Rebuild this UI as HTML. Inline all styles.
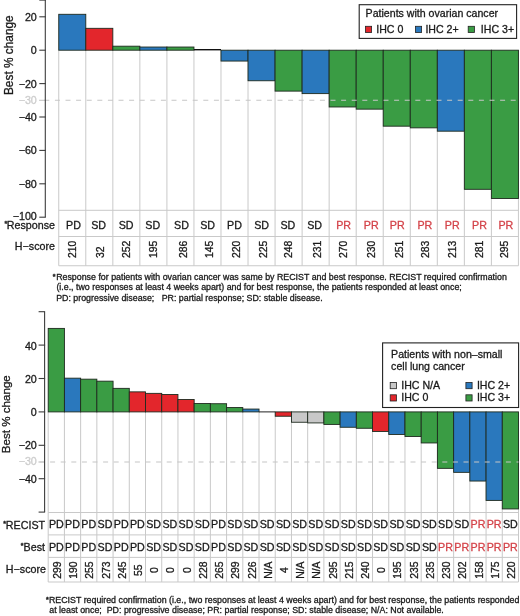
<!DOCTYPE html><html><head><meta charset="utf-8"><style>html,body{margin:0;padding:0;background:#fff;}svg{display:block;}text{font-family:"Liberation Sans", Arial, sans-serif;stroke-width:0.3px;}</style></head><body>
<svg width="520" height="616" viewBox="0 0 520 616">
<rect width="520" height="616" fill="#fff"/>
<line x1="58.75" y1="50.2" x2="58.75" y2="265.75" stroke="#c9c9c9" stroke-width="1"/>
<line x1="85.79" y1="50.2" x2="85.79" y2="265.75" stroke="#c9c9c9" stroke-width="1"/>
<line x1="112.83" y1="50.2" x2="112.83" y2="265.75" stroke="#c9c9c9" stroke-width="1"/>
<line x1="139.87" y1="50.2" x2="139.87" y2="265.75" stroke="#c9c9c9" stroke-width="1"/>
<line x1="166.91" y1="50.2" x2="166.91" y2="265.75" stroke="#c9c9c9" stroke-width="1"/>
<line x1="193.95" y1="50.2" x2="193.95" y2="265.75" stroke="#c9c9c9" stroke-width="1"/>
<line x1="220.99" y1="50.2" x2="220.99" y2="265.75" stroke="#c9c9c9" stroke-width="1"/>
<line x1="248.03" y1="50.2" x2="248.03" y2="265.75" stroke="#c9c9c9" stroke-width="1"/>
<line x1="275.07" y1="50.2" x2="275.07" y2="265.75" stroke="#c9c9c9" stroke-width="1"/>
<line x1="302.11" y1="50.2" x2="302.11" y2="265.75" stroke="#c9c9c9" stroke-width="1"/>
<line x1="329.15" y1="50.2" x2="329.15" y2="265.75" stroke="#c9c9c9" stroke-width="1"/>
<line x1="356.19" y1="50.2" x2="356.19" y2="265.75" stroke="#c9c9c9" stroke-width="1"/>
<line x1="383.23" y1="50.2" x2="383.23" y2="265.75" stroke="#c9c9c9" stroke-width="1"/>
<line x1="410.27" y1="50.2" x2="410.27" y2="265.75" stroke="#c9c9c9" stroke-width="1"/>
<line x1="437.31" y1="50.2" x2="437.31" y2="265.75" stroke="#c9c9c9" stroke-width="1"/>
<line x1="464.35" y1="50.2" x2="464.35" y2="265.75" stroke="#c9c9c9" stroke-width="1"/>
<line x1="491.39" y1="50.2" x2="491.39" y2="265.75" stroke="#c9c9c9" stroke-width="1"/>
<line x1="518.43" y1="50.2" x2="518.43" y2="265.75" stroke="#c9c9c9" stroke-width="1"/>
<rect x="58.75" y="14.3" width="27.04" height="35.91" fill="#2a78bd" stroke="#1e2a1e" stroke-width="0.9"/>
<rect x="85.79" y="28.32" width="27.04" height="21.88" fill="#e3262c" stroke="#1e2a1e" stroke-width="0.9"/>
<rect x="112.83" y="46.19" width="27.04" height="4.01" fill="#3a9c44" stroke="#1e2a1e" stroke-width="0.9"/>
<rect x="139.87" y="47.03" width="27.04" height="3.17" fill="#2a78bd" stroke="#1e2a1e" stroke-width="0.9"/>
<rect x="166.91" y="47.03" width="27.04" height="3.17" fill="#3a9c44" stroke="#1e2a1e" stroke-width="0.9"/>
<line x1="193.95" y1="49.7" x2="220.99" y2="49.7" stroke="#111" stroke-width="1.4"/>
<rect x="220.99" y="50.2" width="27.04" height="10.86" fill="#2a78bd" stroke="#1e2a1e" stroke-width="0.9"/>
<rect x="248.03" y="50.2" width="27.04" height="30.56" fill="#2a78bd" stroke="#1e2a1e" stroke-width="0.9"/>
<rect x="275.07" y="50.2" width="27.04" height="40.92" fill="#3a9c44" stroke="#1e2a1e" stroke-width="0.9"/>
<rect x="302.11" y="50.2" width="27.04" height="43.42" fill="#2a78bd" stroke="#1e2a1e" stroke-width="0.9"/>
<rect x="329.15" y="50.2" width="27.04" height="56.78" fill="#3a9c44" stroke="#1e2a1e" stroke-width="0.9"/>
<rect x="356.19" y="50.2" width="27.04" height="58.95" fill="#3a9c44" stroke="#1e2a1e" stroke-width="0.9"/>
<rect x="383.23" y="50.2" width="27.04" height="75.98" fill="#3a9c44" stroke="#1e2a1e" stroke-width="0.9"/>
<rect x="410.27" y="50.2" width="27.04" height="77.66" fill="#3a9c44" stroke="#1e2a1e" stroke-width="0.9"/>
<rect x="437.31" y="50.2" width="27.04" height="80.99" fill="#2a78bd" stroke="#1e2a1e" stroke-width="0.9"/>
<rect x="464.35" y="50.2" width="27.04" height="139.11" fill="#3a9c44" stroke="#1e2a1e" stroke-width="0.9"/>
<rect x="491.39" y="50.2" width="27.04" height="148.3" fill="#3a9c44" stroke="#1e2a1e" stroke-width="0.9"/>
<line x1="39.1" y1="100.3" x2="45.3" y2="100.3" stroke="#c6c6c6" stroke-width="1.1"/>
<line x1="44.3" y1="100.3" x2="518.43" y2="100.3" stroke="#c6c6c6" stroke-width="1.1" stroke-dasharray="5 5.6"/>
<line x1="45.3" y1="0.1" x2="45.3" y2="217.2" stroke="#3c3c3c" stroke-width="1.1"/>
<line x1="39.3" y1="0.1" x2="45.8" y2="0.1" stroke="#3c3c3c" stroke-width="1.1"/>
<line x1="39.3" y1="16.8" x2="45.8" y2="16.8" stroke="#3c3c3c" stroke-width="1.1"/>
<line x1="39.3" y1="50.2" x2="45.8" y2="50.2" stroke="#3c3c3c" stroke-width="1.1"/>
<line x1="39.3" y1="83.6" x2="45.8" y2="83.6" stroke="#3c3c3c" stroke-width="1.1"/>
<line x1="39.3" y1="117" x2="45.8" y2="117" stroke="#3c3c3c" stroke-width="1.1"/>
<line x1="39.3" y1="150.4" x2="45.8" y2="150.4" stroke="#3c3c3c" stroke-width="1.1"/>
<line x1="39.3" y1="183.8" x2="45.8" y2="183.8" stroke="#3c3c3c" stroke-width="1.1"/>
<line x1="39.3" y1="217.2" x2="45.8" y2="217.2" stroke="#3c3c3c" stroke-width="1.1"/>
<text x="36.8" y="21" font-size="10.7" text-anchor="end" fill="#1a1a1a" stroke="#1a1a1a">20</text>
<text x="36.8" y="54" font-size="10.7" text-anchor="end" fill="#1a1a1a" stroke="#1a1a1a">0</text>
<text x="36.8" y="88" font-size="10.7" text-anchor="end" fill="#1a1a1a" stroke="#1a1a1a">−20</text>
<text x="36.8" y="121" font-size="10.7" text-anchor="end" fill="#1a1a1a" stroke="#1a1a1a">−40</text>
<text x="36.8" y="154" font-size="10.7" text-anchor="end" fill="#1a1a1a" stroke="#1a1a1a">−60</text>
<text x="36.8" y="188" font-size="10.7" text-anchor="end" fill="#1a1a1a" stroke="#1a1a1a">−80</text>
<text x="36.8" y="220" font-size="10.7" text-anchor="end" fill="#1a1a1a" stroke="#1a1a1a">−100</text>
<text x="36.8" y="104" font-size="10.7" text-anchor="end" fill="#cdcdcd" stroke="#cdcdcd">−30</text>
<line x1="58.75" y1="210.3" x2="518.43" y2="210.3" stroke="#c9c9c9" stroke-width="1"/>
<line x1="58.75" y1="236.5" x2="518.43" y2="236.5" stroke="#c9c9c9" stroke-width="1"/>
<line x1="58.75" y1="265.75" x2="518.43" y2="265.75" stroke="#c9c9c9" stroke-width="1"/>
<text x="4.38" y="226.12" font-size="7" fill="#1a1a1a" font-weight="bold" stroke="#1a1a1a">*</text>
<text x="54.98" y="228.6" font-size="10.7" text-anchor="end" fill="#1a1a1a" stroke="#1a1a1a">Response</text>
<text x="54.98" y="249.6" font-size="10.7" text-anchor="end" fill="#1a1a1a" stroke="#1a1a1a">H−score</text>
<text x="73.47" y="228.6" font-size="10.7" text-anchor="middle" fill="#1a1a1a" stroke="#1a1a1a">PD</text>
<text transform="translate(75.82,258.1) rotate(-90)" font-size="10.4" fill="#1a1a1a" stroke="#1a1a1a">210</text>
<text x="98.61" y="228.6" font-size="10.7" text-anchor="middle" fill="#1a1a1a" stroke="#1a1a1a">SD</text>
<text transform="translate(104.41,258.1) rotate(-90)" font-size="10.4" fill="#1a1a1a" stroke="#1a1a1a">32</text>
<text x="126.1" y="228.6" font-size="10.7" text-anchor="middle" fill="#1a1a1a" stroke="#1a1a1a">SD</text>
<text transform="translate(130.1,258.1) rotate(-90)" font-size="10.4" fill="#1a1a1a" stroke="#1a1a1a">252</text>
<text x="152.79" y="228.6" font-size="10.7" text-anchor="middle" fill="#1a1a1a" stroke="#1a1a1a">SD</text>
<text transform="translate(157.39,258.1) rotate(-90)" font-size="10.4" fill="#1a1a1a" stroke="#1a1a1a">195</text>
<text x="181.43" y="228.6" font-size="10.7" text-anchor="middle" fill="#1a1a1a" stroke="#1a1a1a">SD</text>
<text transform="translate(186.53,258.1) rotate(-90)" font-size="10.4" fill="#1a1a1a" stroke="#1a1a1a">286</text>
<text x="207.67" y="228.6" font-size="10.7" text-anchor="middle" fill="#1a1a1a" stroke="#1a1a1a">SD</text>
<text transform="translate(213.47,258.1) rotate(-90)" font-size="10.4" fill="#1a1a1a" stroke="#1a1a1a">145</text>
<text x="234.51" y="228.6" font-size="10.7" text-anchor="middle" fill="#1a1a1a" stroke="#1a1a1a">PD</text>
<text transform="translate(240.21,258.1) rotate(-90)" font-size="10.4" fill="#1a1a1a" stroke="#1a1a1a">220</text>
<text x="261.65" y="228.6" font-size="10.7" text-anchor="middle" fill="#1a1a1a" stroke="#1a1a1a">SD</text>
<text transform="translate(266.75,258.1) rotate(-90)" font-size="10.4" fill="#1a1a1a" stroke="#1a1a1a">225</text>
<text x="287.89" y="228.6" font-size="10.7" text-anchor="middle" fill="#1a1a1a" stroke="#1a1a1a">SD</text>
<text transform="translate(292.19,258.1) rotate(-90)" font-size="10.4" fill="#1a1a1a" stroke="#1a1a1a">248</text>
<text x="314.63" y="228.6" font-size="10.7" text-anchor="middle" fill="#1a1a1a" stroke="#1a1a1a">SD</text>
<text transform="translate(320.53,258.1) rotate(-90)" font-size="10.4" fill="#1a1a1a" stroke="#1a1a1a">231</text>
<text x="343.67" y="228.6" font-size="10.7" text-anchor="middle" fill="#d4444a" stroke="#d4444a">PR</text>
<text transform="translate(347.17,258.1) rotate(-90)" font-size="10.4" fill="#1a1a1a" stroke="#1a1a1a">270</text>
<text x="371.21" y="228.6" font-size="10.7" text-anchor="middle" fill="#d4444a" stroke="#d4444a">PR</text>
<text transform="translate(374.71,258.1) rotate(-90)" font-size="10.4" fill="#1a1a1a" stroke="#1a1a1a">230</text>
<text x="397.25" y="228.6" font-size="10.7" text-anchor="middle" fill="#d4444a" stroke="#d4444a">PR</text>
<text transform="translate(402.5,258.1) rotate(-90)" font-size="10.4" fill="#1a1a1a" stroke="#1a1a1a">251</text>
<text x="424.89" y="228.6" font-size="10.7" text-anchor="middle" fill="#d4444a" stroke="#d4444a">PR</text>
<text transform="translate(429.29,258.1) rotate(-90)" font-size="10.4" fill="#1a1a1a" stroke="#1a1a1a">283</text>
<text x="452.23" y="228.6" font-size="10.7" text-anchor="middle" fill="#d4444a" stroke="#d4444a">PR</text>
<text transform="translate(455.73,258.1) rotate(-90)" font-size="10.4" fill="#1a1a1a" stroke="#1a1a1a">213</text>
<text x="479.47" y="228.6" font-size="10.7" text-anchor="middle" fill="#d4444a" stroke="#d4444a">PR</text>
<text transform="translate(483.22,258.1) rotate(-90)" font-size="10.4" fill="#1a1a1a" stroke="#1a1a1a">281</text>
<text x="505.91" y="228.6" font-size="10.7" text-anchor="middle" fill="#d4444a" stroke="#d4444a">PR</text>
<text transform="translate(508.11,258.1) rotate(-90)" font-size="10.4" fill="#1a1a1a" stroke="#1a1a1a">295</text>
<rect x="359.2" y="4.7" width="157.4" height="33.7" fill="#fff" stroke="#222" stroke-width="1.1"/>
<text x="365.6" y="16.8" font-size="10.6" fill="#1a1a1a" stroke="#1a1a1a">Patients with ovarian cancer</text>
<rect x="365.4" y="26.3" width="6.2" height="6.2" fill="#e3262c" stroke="#222" stroke-width="0.8"/>
<text x="376.2" y="33" font-size="10.6" fill="#1a1a1a" stroke="#1a1a1a">IHC 0</text>
<rect x="415.4" y="26.3" width="6.2" height="6.2" fill="#2a78bd" stroke="#222" stroke-width="0.8"/>
<text x="425.4" y="33" font-size="10.6" fill="#1a1a1a" stroke="#1a1a1a">IHC 2+</text>
<rect x="468.2" y="26.3" width="6.2" height="6.2" fill="#3a9c44" stroke="#222" stroke-width="0.8"/>
<text x="480.8" y="33" font-size="10.6" fill="#1a1a1a" stroke="#1a1a1a">IHC 3+</text>
<text x="52.68" y="278.52" font-size="7" fill="#1a1a1a" font-weight="bold" stroke="#1a1a1a">*</text>
<text x="56.18" y="280" font-size="8.84" fill="#1a1a1a" stroke="#1a1a1a">Response for patients with ovarian cancer was same by RECIST and best response. RECIST required confirmation</text>
<text x="56.4" y="290.3" font-size="8.84" fill="#1a1a1a" stroke="#1a1a1a">(i.e., two responses at least 4 weeks apart) and for best response, the patients responded at least once;</text>
<text x="56.2" y="301" font-size="8.84" fill="#1a1a1a" xml:space="preserve" style="white-space:pre" stroke="#1a1a1a">PD: progressive disease;   PR: partial response; SD: stable disease.</text>
<text transform="translate(12.6,55.2) rotate(-90)" font-size="11.85" text-anchor="middle" fill="#1a1a1a" stroke="#1a1a1a">Best % change</text>
<line x1="48.2" y1="411.9" x2="48.2" y2="582" stroke="#c9c9c9" stroke-width="1"/>
<line x1="64.42" y1="411.9" x2="64.42" y2="582" stroke="#c9c9c9" stroke-width="1"/>
<line x1="80.63" y1="411.9" x2="80.63" y2="582" stroke="#c9c9c9" stroke-width="1"/>
<line x1="96.85" y1="411.9" x2="96.85" y2="582" stroke="#c9c9c9" stroke-width="1"/>
<line x1="113.07" y1="411.9" x2="113.07" y2="582" stroke="#c9c9c9" stroke-width="1"/>
<line x1="129.29" y1="411.9" x2="129.29" y2="582" stroke="#c9c9c9" stroke-width="1"/>
<line x1="145.5" y1="411.9" x2="145.5" y2="582" stroke="#c9c9c9" stroke-width="1"/>
<line x1="161.72" y1="411.9" x2="161.72" y2="582" stroke="#c9c9c9" stroke-width="1"/>
<line x1="177.94" y1="411.9" x2="177.94" y2="582" stroke="#c9c9c9" stroke-width="1"/>
<line x1="194.16" y1="411.9" x2="194.16" y2="582" stroke="#c9c9c9" stroke-width="1"/>
<line x1="210.37" y1="411.9" x2="210.37" y2="582" stroke="#c9c9c9" stroke-width="1"/>
<line x1="226.59" y1="411.9" x2="226.59" y2="582" stroke="#c9c9c9" stroke-width="1"/>
<line x1="242.81" y1="411.9" x2="242.81" y2="582" stroke="#c9c9c9" stroke-width="1"/>
<line x1="259.02" y1="411.9" x2="259.02" y2="582" stroke="#c9c9c9" stroke-width="1"/>
<line x1="275.24" y1="411.9" x2="275.24" y2="582" stroke="#c9c9c9" stroke-width="1"/>
<line x1="291.46" y1="411.9" x2="291.46" y2="582" stroke="#c9c9c9" stroke-width="1"/>
<line x1="307.68" y1="411.9" x2="307.68" y2="582" stroke="#c9c9c9" stroke-width="1"/>
<line x1="323.89" y1="411.9" x2="323.89" y2="582" stroke="#c9c9c9" stroke-width="1"/>
<line x1="340.11" y1="411.9" x2="340.11" y2="582" stroke="#c9c9c9" stroke-width="1"/>
<line x1="356.33" y1="411.9" x2="356.33" y2="582" stroke="#c9c9c9" stroke-width="1"/>
<line x1="372.54" y1="411.9" x2="372.54" y2="582" stroke="#c9c9c9" stroke-width="1"/>
<line x1="388.76" y1="411.9" x2="388.76" y2="582" stroke="#c9c9c9" stroke-width="1"/>
<line x1="404.98" y1="411.9" x2="404.98" y2="582" stroke="#c9c9c9" stroke-width="1"/>
<line x1="421.2" y1="411.9" x2="421.2" y2="582" stroke="#c9c9c9" stroke-width="1"/>
<line x1="437.41" y1="411.9" x2="437.41" y2="582" stroke="#c9c9c9" stroke-width="1"/>
<line x1="453.63" y1="411.9" x2="453.63" y2="582" stroke="#c9c9c9" stroke-width="1"/>
<line x1="469.85" y1="411.9" x2="469.85" y2="582" stroke="#c9c9c9" stroke-width="1"/>
<line x1="486.07" y1="411.9" x2="486.07" y2="582" stroke="#c9c9c9" stroke-width="1"/>
<line x1="502.28" y1="411.9" x2="502.28" y2="582" stroke="#c9c9c9" stroke-width="1"/>
<line x1="518.5" y1="411.9" x2="518.5" y2="582" stroke="#c9c9c9" stroke-width="1"/>
<rect x="48.2" y="328.4" width="16.22" height="83.5" fill="#3a9c44" stroke="#1e2a1e" stroke-width="0.9"/>
<rect x="64.42" y="378.17" width="16.22" height="33.73" fill="#2a78bd" stroke="#1e2a1e" stroke-width="0.9"/>
<rect x="80.63" y="379.17" width="16.22" height="32.73" fill="#3a9c44" stroke="#1e2a1e" stroke-width="0.9"/>
<rect x="96.85" y="381.17" width="16.22" height="30.73" fill="#3a9c44" stroke="#1e2a1e" stroke-width="0.9"/>
<rect x="113.07" y="388.35" width="16.22" height="23.55" fill="#3a9c44" stroke="#1e2a1e" stroke-width="0.9"/>
<rect x="129.29" y="391.86" width="16.22" height="20.04" fill="#e3262c" stroke="#1e2a1e" stroke-width="0.9"/>
<rect x="145.5" y="393.36" width="16.22" height="18.54" fill="#e3262c" stroke="#1e2a1e" stroke-width="0.9"/>
<rect x="161.72" y="394.53" width="16.22" height="17.37" fill="#e3262c" stroke="#1e2a1e" stroke-width="0.9"/>
<rect x="177.94" y="399.54" width="16.22" height="12.36" fill="#e3262c" stroke="#1e2a1e" stroke-width="0.9"/>
<rect x="194.16" y="403.55" width="16.22" height="8.35" fill="#3a9c44" stroke="#1e2a1e" stroke-width="0.9"/>
<rect x="210.37" y="403.72" width="16.22" height="8.18" fill="#3a9c44" stroke="#1e2a1e" stroke-width="0.9"/>
<rect x="226.59" y="407.56" width="16.22" height="4.34" fill="#3a9c44" stroke="#1e2a1e" stroke-width="0.9"/>
<rect x="242.81" y="409.06" width="16.22" height="2.84" fill="#2a78bd" stroke="#1e2a1e" stroke-width="0.9"/>
<line x1="259.02" y1="411.9" x2="275.24" y2="411.9" stroke="#222" stroke-width="1"/>
<rect x="275.24" y="411.9" width="16.22" height="4.34" fill="#e3262c" stroke="#1e2a1e" stroke-width="0.9"/>
<rect x="291.46" y="411.9" width="16.22" height="10.35" fill="#c8c8c8" stroke="#1e2a1e" stroke-width="0.9"/>
<rect x="307.68" y="411.9" width="16.22" height="11.02" fill="#c8c8c8" stroke="#1e2a1e" stroke-width="0.9"/>
<rect x="323.89" y="411.9" width="16.22" height="12.52" fill="#3a9c44" stroke="#1e2a1e" stroke-width="0.9"/>
<rect x="340.11" y="411.9" width="16.22" height="15.36" fill="#2a78bd" stroke="#1e2a1e" stroke-width="0.9"/>
<rect x="356.33" y="411.9" width="16.22" height="16.37" fill="#3a9c44" stroke="#1e2a1e" stroke-width="0.9"/>
<rect x="372.54" y="411.9" width="16.22" height="19.54" fill="#e3262c" stroke="#1e2a1e" stroke-width="0.9"/>
<rect x="388.76" y="411.9" width="16.22" height="22.55" fill="#2a78bd" stroke="#1e2a1e" stroke-width="0.9"/>
<rect x="404.98" y="411.9" width="16.22" height="24.55" fill="#3a9c44" stroke="#1e2a1e" stroke-width="0.9"/>
<rect x="421.2" y="411.9" width="16.22" height="31.06" fill="#3a9c44" stroke="#1e2a1e" stroke-width="0.9"/>
<rect x="437.41" y="411.9" width="16.22" height="56.45" fill="#3a9c44" stroke="#1e2a1e" stroke-width="0.9"/>
<rect x="453.63" y="411.9" width="16.22" height="60.45" fill="#2a78bd" stroke="#1e2a1e" stroke-width="0.9"/>
<rect x="469.85" y="411.9" width="16.22" height="69.14" fill="#2a78bd" stroke="#1e2a1e" stroke-width="0.9"/>
<rect x="486.07" y="411.9" width="16.22" height="88.51" fill="#2a78bd" stroke="#1e2a1e" stroke-width="0.9"/>
<rect x="502.28" y="411.9" width="16.22" height="97.03" fill="#3a9c44" stroke="#1e2a1e" stroke-width="0.9"/>
<line x1="38.4" y1="462" x2="44.6" y2="462" stroke="#c6c6c6" stroke-width="1.1"/>
<line x1="39.5" y1="462" x2="518.5" y2="462" stroke="#c6c6c6" stroke-width="1.1" stroke-dasharray="5 5.6"/>
<line x1="44.6" y1="311.7" x2="44.6" y2="512.1" stroke="#3c3c3c" stroke-width="1.1"/>
<line x1="38.6" y1="311.7" x2="45.1" y2="311.7" stroke="#3c3c3c" stroke-width="1.1"/>
<line x1="38.6" y1="345.1" x2="45.1" y2="345.1" stroke="#3c3c3c" stroke-width="1.1"/>
<line x1="38.6" y1="378.5" x2="45.1" y2="378.5" stroke="#3c3c3c" stroke-width="1.1"/>
<line x1="38.6" y1="411.9" x2="45.1" y2="411.9" stroke="#3c3c3c" stroke-width="1.1"/>
<line x1="38.6" y1="445.3" x2="45.1" y2="445.3" stroke="#3c3c3c" stroke-width="1.1"/>
<line x1="38.6" y1="478.7" x2="45.1" y2="478.7" stroke="#3c3c3c" stroke-width="1.1"/>
<line x1="38.6" y1="512.1" x2="45.1" y2="512.1" stroke="#3c3c3c" stroke-width="1.1"/>
<text x="36.8" y="350" font-size="10.7" text-anchor="end" fill="#1a1a1a" stroke="#1a1a1a">40</text>
<text x="36.8" y="383" font-size="10.7" text-anchor="end" fill="#1a1a1a" stroke="#1a1a1a">20</text>
<text x="36.8" y="416" font-size="10.7" text-anchor="end" fill="#1a1a1a" stroke="#1a1a1a">0</text>
<text x="36.8" y="449" font-size="10.7" text-anchor="end" fill="#1a1a1a" stroke="#1a1a1a">−20</text>
<text x="36.8" y="483" font-size="10.7" text-anchor="end" fill="#1a1a1a" stroke="#1a1a1a">−40</text>
<text x="36.8" y="465" font-size="10.7" text-anchor="end" fill="#cdcdcd" stroke="#cdcdcd">−30</text>
<line x1="48.2" y1="512.5" x2="518.5" y2="512.5" stroke="#c9c9c9" stroke-width="1"/>
<line x1="48.2" y1="534.9" x2="518.5" y2="534.9" stroke="#c9c9c9" stroke-width="1"/>
<line x1="48.2" y1="557.4" x2="518.5" y2="557.4" stroke="#c9c9c9" stroke-width="1"/>
<line x1="48.2" y1="582" x2="518.5" y2="582" stroke="#c9c9c9" stroke-width="1"/>
<text x="3.18" y="526.32" font-size="7" fill="#1a1a1a" font-weight="bold" stroke="#1a1a1a">*</text>
<text x="45.06" y="529" font-size="10.7" text-anchor="end" fill="#1a1a1a" stroke="#1a1a1a">RECIST</text>
<text x="20.78" y="548.42" font-size="7" fill="#1a1a1a" font-weight="bold" stroke="#1a1a1a">*</text>
<text x="23.62" y="551" font-size="10.7" fill="#1a1a1a" stroke="#1a1a1a">Best</text>
<text x="45.98" y="573" font-size="10.7" text-anchor="end" fill="#1a1a1a" stroke="#1a1a1a">H−score</text>
<text x="56.31" y="528" font-size="10.7" text-anchor="middle" fill="#1a1a1a" stroke="#1a1a1a">PD</text>
<text x="56.31" y="551" font-size="10.7" text-anchor="middle" fill="#1a1a1a" stroke="#1a1a1a">PD</text>
<text transform="translate(60.91,570.2) rotate(-90)" font-size="10.4" text-anchor="middle" fill="#1a1a1a" stroke="#1a1a1a">299</text>
<text x="72.53" y="528" font-size="10.7" text-anchor="middle" fill="#1a1a1a" stroke="#1a1a1a">PD</text>
<text x="72.53" y="551" font-size="10.7" text-anchor="middle" fill="#1a1a1a" stroke="#1a1a1a">PD</text>
<text transform="translate(77.13,570.2) rotate(-90)" font-size="10.4" text-anchor="middle" fill="#1a1a1a" stroke="#1a1a1a">190</text>
<text x="88.74" y="528" font-size="10.7" text-anchor="middle" fill="#1a1a1a" stroke="#1a1a1a">PD</text>
<text x="88.74" y="551" font-size="10.7" text-anchor="middle" fill="#1a1a1a" stroke="#1a1a1a">PD</text>
<text transform="translate(93.34,570.2) rotate(-90)" font-size="10.4" text-anchor="middle" fill="#1a1a1a" stroke="#1a1a1a">255</text>
<text x="104.96" y="528" font-size="10.7" text-anchor="middle" fill="#1a1a1a" stroke="#1a1a1a">SD</text>
<text x="104.96" y="551" font-size="10.7" text-anchor="middle" fill="#1a1a1a" stroke="#1a1a1a">SD</text>
<text transform="translate(109.56,570.2) rotate(-90)" font-size="10.4" text-anchor="middle" fill="#1a1a1a" stroke="#1a1a1a">273</text>
<text x="121.18" y="528" font-size="10.7" text-anchor="middle" fill="#1a1a1a" stroke="#1a1a1a">PD</text>
<text x="121.18" y="551" font-size="10.7" text-anchor="middle" fill="#1a1a1a" stroke="#1a1a1a">PD</text>
<text transform="translate(125.78,570.2) rotate(-90)" font-size="10.4" text-anchor="middle" fill="#1a1a1a" stroke="#1a1a1a">245</text>
<text x="137.39" y="528" font-size="10.7" text-anchor="middle" fill="#1a1a1a" stroke="#1a1a1a">PD</text>
<text x="137.39" y="551" font-size="10.7" text-anchor="middle" fill="#1a1a1a" stroke="#1a1a1a">PD</text>
<text transform="translate(141.99,570.2) rotate(-90)" font-size="10.4" text-anchor="middle" fill="#1a1a1a" stroke="#1a1a1a">55</text>
<text x="153.61" y="528" font-size="10.7" text-anchor="middle" fill="#1a1a1a" stroke="#1a1a1a">SD</text>
<text x="153.61" y="551" font-size="10.7" text-anchor="middle" fill="#1a1a1a" stroke="#1a1a1a">SD</text>
<text transform="translate(158.21,570.2) rotate(-90)" font-size="10.4" text-anchor="middle" fill="#1a1a1a" stroke="#1a1a1a">0</text>
<text x="169.83" y="528" font-size="10.7" text-anchor="middle" fill="#1a1a1a" stroke="#1a1a1a">SD</text>
<text x="169.83" y="551" font-size="10.7" text-anchor="middle" fill="#1a1a1a" stroke="#1a1a1a">SD</text>
<text transform="translate(174.43,570.2) rotate(-90)" font-size="10.4" text-anchor="middle" fill="#1a1a1a" stroke="#1a1a1a">0</text>
<text x="186.05" y="528" font-size="10.7" text-anchor="middle" fill="#1a1a1a" stroke="#1a1a1a">SD</text>
<text x="186.05" y="551" font-size="10.7" text-anchor="middle" fill="#1a1a1a" stroke="#1a1a1a">SD</text>
<text transform="translate(190.65,570.2) rotate(-90)" font-size="10.4" text-anchor="middle" fill="#1a1a1a" stroke="#1a1a1a">0</text>
<text x="202.26" y="528" font-size="10.7" text-anchor="middle" fill="#1a1a1a" stroke="#1a1a1a">SD</text>
<text x="202.26" y="551" font-size="10.7" text-anchor="middle" fill="#1a1a1a" stroke="#1a1a1a">SD</text>
<text transform="translate(206.86,570.2) rotate(-90)" font-size="10.4" text-anchor="middle" fill="#1a1a1a" stroke="#1a1a1a">228</text>
<text x="218.48" y="528" font-size="10.7" text-anchor="middle" fill="#1a1a1a" stroke="#1a1a1a">PD</text>
<text x="218.48" y="551" font-size="10.7" text-anchor="middle" fill="#1a1a1a" stroke="#1a1a1a">PD</text>
<text transform="translate(223.08,570.2) rotate(-90)" font-size="10.4" text-anchor="middle" fill="#1a1a1a" stroke="#1a1a1a">265</text>
<text x="234.7" y="528" font-size="10.7" text-anchor="middle" fill="#1a1a1a" stroke="#1a1a1a">SD</text>
<text x="234.7" y="551" font-size="10.7" text-anchor="middle" fill="#1a1a1a" stroke="#1a1a1a">SD</text>
<text transform="translate(239.3,570.2) rotate(-90)" font-size="10.4" text-anchor="middle" fill="#1a1a1a" stroke="#1a1a1a">299</text>
<text x="250.92" y="528" font-size="10.7" text-anchor="middle" fill="#1a1a1a" stroke="#1a1a1a">SD</text>
<text x="250.92" y="551" font-size="10.7" text-anchor="middle" fill="#1a1a1a" stroke="#1a1a1a">SD</text>
<text transform="translate(255.52,570.2) rotate(-90)" font-size="10.4" text-anchor="middle" fill="#1a1a1a" stroke="#1a1a1a">226</text>
<text x="267.13" y="528" font-size="10.7" text-anchor="middle" fill="#1a1a1a" stroke="#1a1a1a">SD</text>
<text x="267.13" y="551" font-size="10.7" text-anchor="middle" fill="#1a1a1a" stroke="#1a1a1a">SD</text>
<text transform="translate(271.73,570.2) rotate(-90)" font-size="10.4" text-anchor="middle" fill="#1a1a1a" stroke="#1a1a1a">N/A</text>
<text x="283.35" y="528" font-size="10.7" text-anchor="middle" fill="#1a1a1a" stroke="#1a1a1a">SD</text>
<text x="283.35" y="551" font-size="10.7" text-anchor="middle" fill="#1a1a1a" stroke="#1a1a1a">SD</text>
<text transform="translate(287.95,570.2) rotate(-90)" font-size="10.4" text-anchor="middle" fill="#1a1a1a" stroke="#1a1a1a">4</text>
<text x="299.57" y="528" font-size="10.7" text-anchor="middle" fill="#1a1a1a" stroke="#1a1a1a">SD</text>
<text x="299.57" y="551" font-size="10.7" text-anchor="middle" fill="#1a1a1a" stroke="#1a1a1a">SD</text>
<text transform="translate(304.17,570.2) rotate(-90)" font-size="10.4" text-anchor="middle" fill="#1a1a1a" stroke="#1a1a1a">N/A</text>
<text x="315.78" y="528" font-size="10.7" text-anchor="middle" fill="#1a1a1a" stroke="#1a1a1a">SD</text>
<text x="315.78" y="551" font-size="10.7" text-anchor="middle" fill="#1a1a1a" stroke="#1a1a1a">SD</text>
<text transform="translate(320.38,570.2) rotate(-90)" font-size="10.4" text-anchor="middle" fill="#1a1a1a" stroke="#1a1a1a">N/A</text>
<text x="332" y="528" font-size="10.7" text-anchor="middle" fill="#1a1a1a" stroke="#1a1a1a">SD</text>
<text x="332" y="551" font-size="10.7" text-anchor="middle" fill="#1a1a1a" stroke="#1a1a1a">SD</text>
<text transform="translate(336.6,570.2) rotate(-90)" font-size="10.4" text-anchor="middle" fill="#1a1a1a" stroke="#1a1a1a">295</text>
<text x="348.22" y="528" font-size="10.7" text-anchor="middle" fill="#1a1a1a" stroke="#1a1a1a">SD</text>
<text x="348.22" y="551" font-size="10.7" text-anchor="middle" fill="#1a1a1a" stroke="#1a1a1a">SD</text>
<text transform="translate(352.82,570.2) rotate(-90)" font-size="10.4" text-anchor="middle" fill="#1a1a1a" stroke="#1a1a1a">215</text>
<text x="364.44" y="528" font-size="10.7" text-anchor="middle" fill="#1a1a1a" stroke="#1a1a1a">SD</text>
<text x="364.44" y="551" font-size="10.7" text-anchor="middle" fill="#1a1a1a" stroke="#1a1a1a">SD</text>
<text transform="translate(369.04,570.2) rotate(-90)" font-size="10.4" text-anchor="middle" fill="#1a1a1a" stroke="#1a1a1a">240</text>
<text x="380.65" y="528" font-size="10.7" text-anchor="middle" fill="#1a1a1a" stroke="#1a1a1a">SD</text>
<text x="380.65" y="551" font-size="10.7" text-anchor="middle" fill="#1a1a1a" stroke="#1a1a1a">SD</text>
<text transform="translate(385.25,570.2) rotate(-90)" font-size="10.4" text-anchor="middle" fill="#1a1a1a" stroke="#1a1a1a">0</text>
<text x="396.87" y="528" font-size="10.7" text-anchor="middle" fill="#1a1a1a" stroke="#1a1a1a">SD</text>
<text x="396.87" y="551" font-size="10.7" text-anchor="middle" fill="#1a1a1a" stroke="#1a1a1a">SD</text>
<text transform="translate(401.47,570.2) rotate(-90)" font-size="10.4" text-anchor="middle" fill="#1a1a1a" stroke="#1a1a1a">195</text>
<text x="413.09" y="528" font-size="10.7" text-anchor="middle" fill="#1a1a1a" stroke="#1a1a1a">SD</text>
<text x="413.09" y="551" font-size="10.7" text-anchor="middle" fill="#1a1a1a" stroke="#1a1a1a">SD</text>
<text transform="translate(417.69,570.2) rotate(-90)" font-size="10.4" text-anchor="middle" fill="#1a1a1a" stroke="#1a1a1a">235</text>
<text x="429.31" y="528" font-size="10.7" text-anchor="middle" fill="#1a1a1a" stroke="#1a1a1a">SD</text>
<text x="429.31" y="551" font-size="10.7" text-anchor="middle" fill="#1a1a1a" stroke="#1a1a1a">SD</text>
<text transform="translate(433.91,570.2) rotate(-90)" font-size="10.4" text-anchor="middle" fill="#1a1a1a" stroke="#1a1a1a">235</text>
<text x="445.52" y="528" font-size="10.7" text-anchor="middle" fill="#1a1a1a" stroke="#1a1a1a">SD</text>
<text x="445.52" y="551" font-size="10.7" text-anchor="middle" fill="#d4444a" stroke="#d4444a">PR</text>
<text transform="translate(450.12,570.2) rotate(-90)" font-size="10.4" text-anchor="middle" fill="#1a1a1a" stroke="#1a1a1a">230</text>
<text x="461.74" y="528" font-size="10.7" text-anchor="middle" fill="#1a1a1a" stroke="#1a1a1a">SD</text>
<text x="461.74" y="551" font-size="10.7" text-anchor="middle" fill="#d4444a" stroke="#d4444a">PR</text>
<text transform="translate(466.34,570.2) rotate(-90)" font-size="10.4" text-anchor="middle" fill="#1a1a1a" stroke="#1a1a1a">202</text>
<text x="477.96" y="528" font-size="10.7" text-anchor="middle" fill="#d4444a" stroke="#d4444a">PR</text>
<text x="477.96" y="551" font-size="10.7" text-anchor="middle" fill="#d4444a" stroke="#d4444a">PR</text>
<text transform="translate(482.56,570.2) rotate(-90)" font-size="10.4" text-anchor="middle" fill="#1a1a1a" stroke="#1a1a1a">158</text>
<text x="494.17" y="528" font-size="10.7" text-anchor="middle" fill="#d4444a" stroke="#d4444a">PR</text>
<text x="494.17" y="551" font-size="10.7" text-anchor="middle" fill="#d4444a" stroke="#d4444a">PR</text>
<text transform="translate(498.77,570.2) rotate(-90)" font-size="10.4" text-anchor="middle" fill="#1a1a1a" stroke="#1a1a1a">175</text>
<text x="510.39" y="528" font-size="10.7" text-anchor="middle" fill="#1a1a1a" stroke="#1a1a1a">SD</text>
<text x="510.39" y="551" font-size="10.7" text-anchor="middle" fill="#d4444a" stroke="#d4444a">PR</text>
<text transform="translate(514.99,570.2) rotate(-90)" font-size="10.4" text-anchor="middle" fill="#1a1a1a" stroke="#1a1a1a">220</text>
<rect x="382.6" y="342.9" width="136" height="64.6" fill="#fff" stroke="#222" stroke-width="1.1"/>
<text x="391.1" y="358" font-size="10.6" fill="#1a1a1a" stroke="#1a1a1a">Patients with non–small</text>
<text x="391.1" y="370.3" font-size="10.6" fill="#1a1a1a" stroke="#1a1a1a">cell lung cancer</text>
<rect x="390.2" y="382.5" width="6.2" height="6.2" fill="#c8c8c8" stroke="#222" stroke-width="0.8"/>
<text x="401.2" y="388.7" font-size="10.6" fill="#1a1a1a" stroke="#1a1a1a">IHC N/A</text>
<rect x="390.2" y="394.8" width="6.2" height="6.2" fill="#e3262c" stroke="#222" stroke-width="0.8"/>
<text x="401.2" y="401" font-size="10.6" fill="#1a1a1a" stroke="#1a1a1a">IHC 0</text>
<rect x="465.9" y="382.5" width="6.2" height="6.2" fill="#2a78bd" stroke="#222" stroke-width="0.8"/>
<text x="476.9" y="388.7" font-size="10.6" fill="#1a1a1a" stroke="#1a1a1a">IHC 2+</text>
<rect x="465.9" y="394.8" width="6.2" height="6.2" fill="#3a9c44" stroke="#222" stroke-width="0.8"/>
<text x="476.9" y="401" font-size="10.6" fill="#1a1a1a" stroke="#1a1a1a">IHC 3+</text>
<text x="45.98" y="602.02" font-size="7" fill="#1a1a1a" font-weight="bold" stroke="#1a1a1a">*</text>
<text x="48.98" y="603" font-size="8.84" fill="#1a1a1a" stroke="#1a1a1a">RECIST required confirmation (i.e., two responses at least 4 weeks apart) and for best response, the patients responded</text>
<text x="49.3" y="613" font-size="8.84" fill="#1a1a1a" xml:space="preserve" style="white-space:pre" stroke="#1a1a1a">at least once;  PD: progressive disease; PR: partial response; SD: stable disease; N/A: Not available.</text>
<text transform="translate(10.1,414.2) rotate(-90)" font-size="11.6" text-anchor="middle" fill="#1a1a1a" stroke="#1a1a1a">Best % change</text>
</svg></body></html>
